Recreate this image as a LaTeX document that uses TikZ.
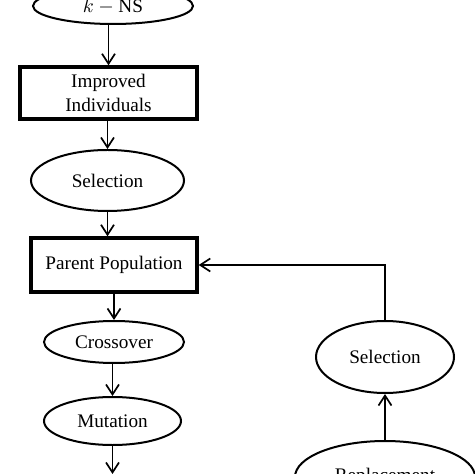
\documentclass[tikz,border=0pt]{standalone}
\usepackage{fontspec}
\setmainfont{Liberation Serif}
\usetikzlibrary{shapes.geometric,arrows.meta}
\begin{document}
\begin{tikzpicture}[x=0.5pt,y=-0.5pt,>={Straight Barb[length=5pt,width=6.5pt]},
  oval/.style={draw,ellipse,line width=1pt,inner sep=0pt,font=\fontsize{9.6}{12}\selectfont},
  box/.style={draw,rectangle,line width=1.7pt,inner sep=0pt,align=center,font=\fontsize{9.6}{12}\selectfont},
  link/.style={->,line width=0.85pt}]
\useasboundingbox (0,0) rectangle (474,474);
% main column
\node[oval,minimum width=80pt,minimum height=18pt] (kns) at (113,6) {$k-{}$NS};
\node[box,minimum width=88.5pt,minimum height=26pt] (improved) at (108.5,93) {Improved\\Individuals};
\node[oval,minimum width=76.5pt,minimum height=30.5pt] (sel) at (107.5,180.5) {Selection};
\node[box,minimum width=83pt,minimum height=27pt] (parent) at (114,265) {Parent Population};
\node[oval,minimum width=70pt,minimum height=21pt] (cross) at (114,342) {Crossover};
\node[oval,minimum width=68.5pt,minimum height=24pt] (mut) at (112.5,421) {Mutation};
\coordinate (out) at (112.5,474);
% right branch
\node[oval,minimum width=69pt,minimum height=36pt] (selr) at (385,357) {Selection};
\node[oval,minimum width=90pt,minimum height=36pt] (repl) at (385,477) {Replacement};

\draw[link] (kns.south -| improved.north) -- (improved.north);
\draw[link] (improved.south -| sel.north) -- (sel.north);
\draw[link] (sel.south) -- (sel.south |- parent.north);
\draw[link] (parent.south) -- (parent.south |- cross.north);
\draw[link] (cross.south -| mut.north) -- (mut.north);
\draw[link] (mut.south) -- (out);
\draw[link] (repl.north) -- (selr.south);
\draw[link] (selr.north) |- (parent.east);
\end{tikzpicture}
\end{document}
